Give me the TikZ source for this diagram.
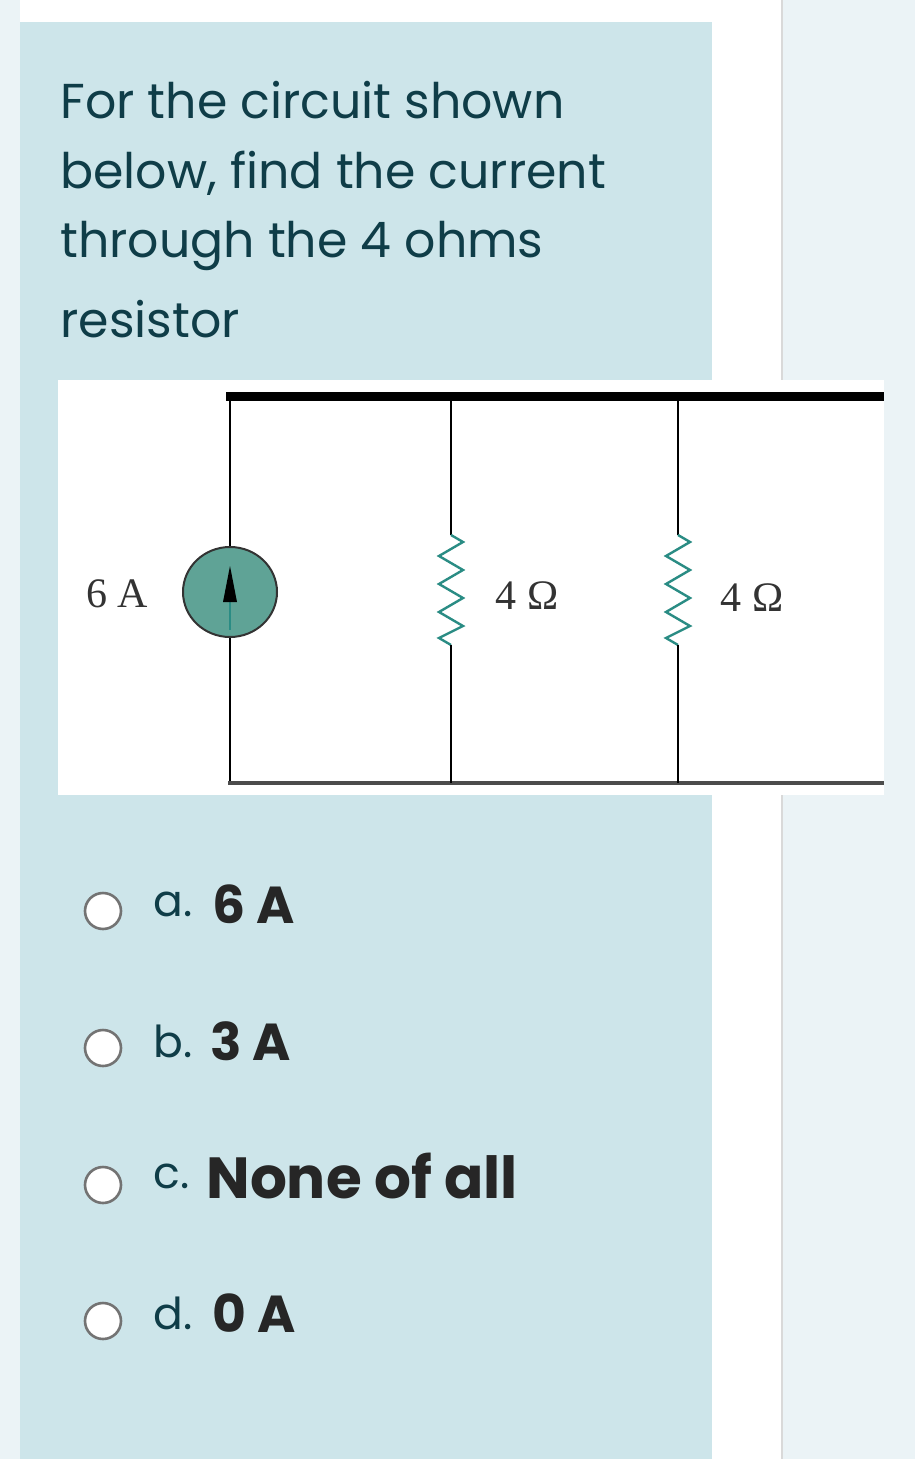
\documentclass[tikz,border=0pt]{standalone}
\usepackage{fontspec}
\setmainfont{Poppins}
\newfontfamily\serifx{Liberation Serif}
\usetikzlibrary{shapes.geometric,arrows.meta}
\definecolor{panel}{HTML}{CDE5EA}
\definecolor{outer}{HTML}{EBF3F6}
\definecolor{ink}{HTML}{0F3D48}
\definecolor{teal}{HTML}{5FA396}
\definecolor{rescol}{HTML}{2A8C84}
\tikzset{
 qtext/.style={anchor=west,font=\fontsize{24.5}{24.5}\selectfont,text=ink,inner sep=0},
 opt/.style={circle,draw=gray!90!black,line width=1.3pt,fill=white,minimum size=18pt,inner sep=0},
 optlab/.style={anchor=west,inner sep=0,text=ink,font=\fontsize{22}{22}\selectfont},
 ans/.style={anchor=west,inner sep=0,text=black!85,font=\fontsize{26}{26}\selectfont\bfseries},
 wire/.style={line width=0.9pt,black},
 clab/.style={font=\serifx\fontsize{21}{21}\selectfont,text=black!80,inner sep=0}
}
\begin{document}
\begin{tikzpicture}[x=0.5pt,y=-0.5pt]
\useasboundingbox (0,0) rectangle (915,1459);
\fill[white] (0,0) rectangle (915,1459);
\fill[outer] (0,0) rectangle (20,1459);
\fill[outer] (782,0) rectangle (915,1459);
\draw[gray!30,line width=0.8pt] (782,0) -- (782,1459);
\fill[panel] (20,22) rectangle (712,1459);
\node[qtext] (l1) at (60,100) {For the circuit shown};
\node[qtext] (l2) at (60,173) {below, find the current};
\node[qtext] (l3) at (60,246) {through the 4 ohms};
\node[qtext] (l4) at (60,319) {resistor};
\fill[white] (58,380) rectangle (884,795);
\coordinate (t1) at (226,397); \coordinate (te) at (884,397);
\coordinate (b1) at (228,783); \coordinate (be) at (884,783);
\node[ellipse,draw=black!80,line width=1pt,fill=teal,minimum width=47pt,minimum height=45pt,inner sep=0] (src) at (230,592) {};
\draw[wire] (230,397) -- (src.north);
\draw[wire] (src.south) -- (230,783);
\draw[rescol,line width=0.6pt] (230,600) -- (230,630);
\fill[black] (230,566) -- (223,602) -- (237,602) -- cycle;
\draw[line width=4.5pt] (t1) -- (te);
\draw[line width=1.6pt,black!70] (b1) -- (be);
\draw[wire] (451,397) -- (451,535);
\draw[rescol,line width=1.2pt] (451,535) -- (463,542) -- (439,556) -- (463,570) -- (439,584) -- (463,598) -- (439,612) -- (463,626) -- (439,638) -- (451,645);
\draw[wire] (451,645) -- (451,783);
\draw[wire] (678,397) -- (678,535);
\draw[rescol,line width=1.2pt] (678,535) -- (690,542) -- (666,556) -- (690,570) -- (666,584) -- (690,598) -- (666,612) -- (690,626) -- (666,638) -- (678,645);
\draw[wire] (678,645) -- (678,783);
\node[clab] (s6) at (117,594) {6 A};
\node[clab] (ra) at (527,596) {4 Ω};
\node[clab] (rb) at (752,598) {4 Ω};
\node[opt] (oa) at (103,911) {};
\node[opt] (ob) at (103,1048) {};
\node[opt] (oc) at (103,1185) {};
\node[opt] (od) at (103,1321) {};
\node[optlab] (la) at (153,904) {a.}; \node[ans] (aa) at (212,904) {6 A};
\node[optlab] (lb) at (153,1041) {b.}; \node[ans] (ab) at (210,1041) {3 A};
\node[optlab] (lc) at (153,1176) {c.}; \node[ans,font=\fontsize{29}{29}\selectfont\bfseries] (ac) at (206,1176) {None of all};
\node[optlab] (ld) at (153,1313) {d.}; \node[ans] (ad) at (212,1313) {0 A};
\end{tikzpicture}
\end{document}
